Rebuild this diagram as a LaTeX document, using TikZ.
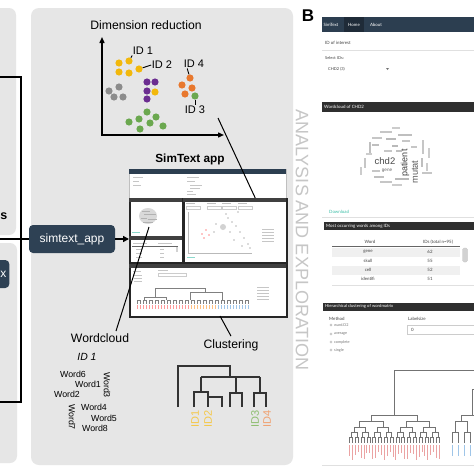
\documentclass[tikz,border=0pt]{standalone}
\usepackage{fontspec}
\setmainfont{Liberation Sans}
\newfontfamily\shinyfont{Lato}
\usetikzlibrary{arrows.meta}
\definecolor{panelgray}{HTML}{E6E6E6}
\definecolor{navybox}{HTML}{2E4154}
\definecolor{dyel}{HTML}{F2B80C}
\definecolor{dpur}{HTML}{6B2D90}
\definecolor{dgry}{HTML}{8C8C8C}
\definecolor{dorg}{HTML}{E8782E}
\definecolor{dgrn}{HTML}{6BA84F}
\definecolor{lyel}{HTML}{F4C84A}
\definecolor{lgrn}{HTML}{8EBE70}
\definecolor{lorg}{HTML}{F0A272}
\definecolor{shinynavy}{HTML}{2C3E50}
\definecolor{shinydark}{HTML}{2F2F2F}
\definecolor{dlteal}{HTML}{3DBFA8}
\definecolor{txtgray}{HTML}{C6C6C6}
\definecolor{lblpink}{HTML}{EBA3A3}
\definecolor{lblblue}{HTML}{9FC5E8}
\newcommand{\myfs}[1]{\fontsize{#1}{#1}\selectfont}
\tikzset{
  dotn/.style={circle, inner sep=0pt, minimum size=7.2pt, draw=none},
  idlbl/.style={font=\myfs{11}, inner sep=0.5pt},
  biglbl/.style={font=\myfs{12.2}, inner sep=0pt},
  leader/.style={line width=0.9pt, black},
  pointer/.style={line width=1pt, black},
  dend/.style={line width=1.3pt, black!80},
  wordn/.style={font=\myfs{8.8}, inner sep=0pt},
  scrbox/.style={draw=black!85, line width=1.5pt, fill=white, inner sep=0pt},
  navybtn/.style={fill=navybox, rounded corners=4pt, text=white, font=\myfs{12}, inner sep=0pt},
  sdend/.style={line width=0.45pt, black!55},
  stxt/.style={font=\shinyfont\myfs{4.4}, inner sep=0pt, text=black!75},
}
\begin{document}
\begin{tikzpicture}[x=1pt,y=-1pt]
\useasboundingbox (0,0) rectangle (474,474);
\fill[white] (0,0) rectangle (474,474);

% ---------- left partial panels ----------
\fill[panelgray, rounded corners=7pt] (-30,8) rectangle (16,235);
\fill[panelgray, rounded corners=7pt] (-30,243) rectangle (17,463);
\node[font=\bfseries\myfs{12.5}, anchor=west, inner sep=0pt] (sfrag) at (0.2,216) {s};
\node[navybtn, minimum width=40, minimum height=28, anchor=east] (xbox) at (9.5,274) {};
\node[text=white, font=\myfs{12}, anchor=west, inner sep=0pt] (xfrag) at (0.2,274) {x};
\coordinate (brA) at (-3,77);
\coordinate (brB) at (-3,402);
\draw[line width=1.8pt] (brA) -- (21,77) -- (21,402) -- (brB);

% ---------- main panel ----------
\fill[panelgray, rounded corners=8pt] (31,8) rectangle (293,465);

% simtext_app
\node[navybtn, minimum width=86, minimum height=28] (app) at (72,239) {simtext\_app};
\coordinate (appin) at (-3,239);
\draw[line width=1.6pt] (appin) -- (app.west);

% Dimension reduction
\node[biglbl] (dimred) at (146,25) {Dimension reduction};
\coordinate (ytip) at (102,37);
\coordinate (orig) at (102,135);
\coordinate (xtip) at (224,135);
\draw[line width=1.4pt, {Triangle[length=6pt,width=5pt]}-{Triangle[length=6pt,width=5pt]}] (ytip) -- (orig) -- (xtip);

\foreach \n/\px/\py/\c in {ya/119/63/dyel, yb/129/61/dyel, yc/119/72/dyel, yd/129/73/dyel, ye/139/69/dyel, yf/155/92/dyel,
  pa/147/82/dpur, pb/155/82/dpur, pc/147/91/dpur, pd/147/99/dpur,
  ga/109/91/dgry, gb/119/87/dgry, gc/114/97/dgry, gd/123/97/dgry,
  oa/190/78/dorg, ob/182/85/dorg, oc/192/88/dorg, od/185/94/dorg,
  na/195/96/dgrn, nb/147/112/dgrn, nc/139/119/dgrn, nd/156/117/dgrn, ne/129/122/dgrn, nf/150/123/dgrn, ng/140/129/dgrn, nh/163/126/dgrn}
  \node[dotn, fill=\c] (\n) at (\px,\py) {};

\node[idlbl] (id1) at (143,51) {ID 1};
\node[idlbl] (id2) at (162,65) {ID 2};
\node[idlbl] (id4) at (194,64) {ID 4};
\node[idlbl] (id3) at (195,110) {ID 3};
\draw[leader] (yb) -- (id1.south west);
\draw[leader] (ye) -- (id2.west);
\draw[leader] (oa) -- ([xshift=4pt]id4.south west);
\draw[leader] (na) -- (id3.north);

% SimText app screenshot
\node[font=\bfseries\myfs{11.8}, inner sep=0pt] (simapp) at (190,159) {SimText app};
\node[anchor=north west, minimum width=157, minimum height=29, inner sep=0pt, fill=white, draw=black!25, line width=0.5pt] (scrtop) at (129,169) {};
\fill[shinynavy] (129,169) rectangle (286,173.5);
\foreach \x/\y/\w in {133/177/10, 133/181/6, 133/184.5/8, 187/177/12, 187/181/8, 190/184.5/12, 190/187.5/10, 187/191/6, 187/194/9}
  \fill[gray!45] (\x,\y) rectangle ++(\w,1.1);
\node[scrbox, anchor=north west, minimum width=53, minimum height=38] (wcbox) at (129,198) {};
\node[scrbox, anchor=north west, minimum width=103, minimum height=64] (bigbox) at (183,198) {};
\node[scrbox, anchor=north west, minimum width=53, minimum height=26] (tabbox) at (129,236) {};
\node[scrbox, anchor=north west, minimum width=157, minimum height=52] (clbox) at (129,264) {};
\fill[black!75] (129,198) rectangle (182,201.5);
\fill[black!75] (183,198) rectangle (286,201.5);
\fill[black!75] (129,236) rectangle (182,239.5);
\fill[black!75] (129,264) rectangle (286,267.5);
% wordcloud thumb
\fill[gray!30] (148,216) ellipse (9 and 8);
\foreach \x/\y/\w in {142/211/8, 144/214/12, 141/218/6, 148/219/9, 143/222/10}
  \fill[gray!60] (\x,\y) rectangle ++(\w,1.2);
\fill[dlteal!60] (132,232) rectangle ++(8,1);
% table thumb
\foreach \x/\y/\w in {133/243/14, 158/243/14, 136/249/6, 160/249/4, 136/253/6, 160/253/4, 136/257/6, 160/257/4}
  \fill[gray!45] (\x,\y) rectangle ++(\w,1.1);
\draw[black!60, line width=0.5pt] (132,246) -- (178,246);
\fill[gray!35] (176,247) rectangle (178,252);
% scatter thumb
\foreach \x in {186,207,222,238} {\fill[gray!50] (\x,203) rectangle ++(9,1.2); \draw[gray!40, line width=0.3pt] (\x,206) rectangle ++(14,3);}
\draw[gray!55, line width=0.4pt] (188,212) -- (188,253) -- (252,253);
\foreach \x/\y in {226/214,232/222,236/226,240/232,244/238,248/244,250/248,230/232,216/224,238/212,214/232,234/240,242/246,228/218}
  \fill[gray!55] (\x,\y) circle (0.8);
\fill[gray!35] (223,227) circle (3);
\foreach \x/\y in {202/234,206/230,209/235,204/238}
  \fill[red!45] (\x,\y) circle (0.8);
\foreach \y in {229,232,235,238,241}
  \fill[gray!45] (262,\y) rectangle ++(12,1);
\fill[dlteal!60] (187,257) rectangle ++(8,1);
% clustering thumb
\foreach \x/\y/\w in {133/271/8, 134/275/8, 134/278/8, 134/281/8, 158/270/10}
  \fill[gray!45] (\x,\y) rectangle ++(\w,1.1);
\draw[gray!40, line width=0.3pt] (158,273) rectangle ++(28,3);
\begin{scope}[line width=0.35pt, black!50]
\draw (155,297) -- (155,288) -- (205,288) -- (205,292);
\draw (144,300) -- (144,297) -- (166,297) -- (166,300);
\draw (190,300) -- (190,292) -- (222,292) -- (222,300);
\foreach \x in {137,143,...,246} \draw (\x,304) -- (\x,300) -- (\x+3,300) -- (\x+3,304);
\end{scope}
\foreach \x in {137,140,...,188} \fill[red!40] (\x,305) rectangle ++(1.2,4);
\foreach \x in {191,194,...,215} \fill[orange!50] (\x,305) rectangle ++(1.2,4);
\foreach \x in {218,221,...,249} \fill[lblblue] (\x,305) rectangle ++(1.2,4);
\foreach \y in {287,290,293,296,299}
  \fill[gray!45] (257,\y) rectangle ++(12,1);

% arrow app -> screenshot
\coordinate (scrin) at (129,239);
\draw[line width=1.6pt, -{Triangle[length=6pt,width=6pt]}] (app.east) -- (scrin);

% pointers
\coordinate (dimptr) at (218,118);
\draw[pointer] (dimptr) -- ([xshift=20pt]bigbox.north);
\coordinate (wcpt) at (149,227);
\coordinate (wctail) at (116,331);
\draw[pointer] (wcpt) -- (wctail);
\coordinate (clpt) at (220,316);

% Wordcloud
\node[biglbl] (wclabel) at (100,338) {Wordcloud};
\node[font=\itshape\myfs{10.4}, inner sep=0pt] (wid) at (87,357) {ID 1};
\node[wordn] (w6) at (73,374) {Word6};
\node[wordn] (w1) at (88,384) {Word1};
\node[wordn] (w2) at (67,394) {Word2};
\node[wordn, rotate=-90] (w3) at (107,385) {Word3};
\node[wordn] (w4) at (94,407) {Word4};
\node[wordn] (w5) at (104,418) {Word5};
\node[wordn] (w8) at (95,428) {Word8};
\node[wordn, rotate=-90] (w7) at (72,417) {Word7};

% Clustering
\node[biglbl] (clabel) at (231,345) {Clustering};
\draw[pointer] (clpt) -- ([yshift=3pt]clabel.north);
\draw[dend] (178,407) -- (178,366) -- (230,366) -- (230,377);
\draw[dend] (201,377) -- (260,377);
\draw[dend] (201,377) -- (201,392);
\draw[dend] (194,407) -- (194,392) -- (208,392) -- (208,407);
\draw[dend] (208,397) -- (222,397) -- (222,407);
\draw[dend] (236,377) -- (236,393);
\draw[dend] (230,407) -- (230,393) -- (242,393) -- (242,407);
\draw[dend] (260,377) -- (260,393);
\draw[dend] (254,407) -- (254,393) -- (266,393) -- (266,407);
\node[idlbl, rotate=90, anchor=east, text=lyel] (cid1) at (195,410) {ID1};
\node[idlbl, rotate=90, anchor=east, text=lyel] (cid2) at (208,410) {ID2};
\node[idlbl, rotate=90, anchor=east, text=lgrn] (cid3) at (255,410) {ID3};
\node[idlbl, rotate=90, anchor=east, text=lorg] (cid4) at (267,410) {ID4};

% ---------- vertical title ----------
\node[rotate=-90, font=\myfs{18}, text=txtgray, inner sep=0pt] (vtitle) at (302,240) {ANALYSIS AND EXPLORATION};

% ---------- panel B ----------
\node[font=\bfseries\myfs{17}, inner sep=0pt] (blabel) at (308,16) {B};
\fill[shinynavy] (322,17) rectangle (480,32);
\fill[black!30!shinynavy] (344,17) rectangle (364,32);
\node[stxt, text=white] (navst) at (331,24.5) {SimText};
\node[stxt, text=white] (navhome) at (354,24.5) {Home};
\node[stxt, text=white] (navabout) at (376,24.5) {About};
\node[stxt, anchor=west] (idint) at (325,43) {ID of interest};
\draw[black!12, line width=0.5pt] (322,50) -- (480,50);
\node[stxt, anchor=west, font=\shinyfont\myfs{4}] (selid) at (325,58) {Select IDs:};
\node[stxt, anchor=west, font=\shinyfont\myfs{4}] (chd) at (328,69) {CHD2 (3)};
\fill[black!55] (386,68) -- (389,68) -- (387.5,70) -- cycle;
\fill[shinydark] (322,102) rectangle (480,112);
\node[stxt, text=white, anchor=west] (wctitle) at (324,107) {Wordcloud of CHD2};
% wordcloud
\foreach \x/\y/\w/\h/\g in {380/131/12/2/45, 392/127/8/2/40, 398/134/14/2/50, 372/137/10/2/45, 386/138/10/2/55, 402/140/8/2/45,
  372/144/7/2/50, 392/145/6/2/55, 411/146/6/2/45, 369/142/2/12/50, 422/140/2/14/45, 428/148/2/10/40,
  372/170/8/2/45, 374/176/10/2/50, 380/181/12/2/45, 395/178/14/2/55, 392/184/10/2/40, 422/172/10/2/45,
  364/158/2/10/45, 360/167/2/8/40, 396/150/6/2/50, 421/158/2/9/50, 426/163/2/8/40, 384/150/8/2/45, 366/153/6/2/40}
  \fill[gray!\g] (\x,\y) rectangle ++(\w,\h);
\node[font=\myfs{9.5}, text=black!70, inner sep=0pt] (wchd) at (385,161) {chd2};
\node[font=\myfs{9}, text=black!75, rotate=90, inner sep=0pt] (wpat) at (405,163) {patient};
\node[font=\myfs{9.2}, text=black!65, rotate=90, inner sep=0pt] (wmut) at (415,172) {mutat};
\node[font=\myfs{4.6}, text=black!60, inner sep=0pt] (wgene) at (387,171) {gene};
\node[stxt, anchor=west, text=dlteal] (dl) at (329,212) {Download};
\draw[black!12, line width=0.5pt] (322,217) -- (480,217);
\fill[shinydark] (324,222) rectangle (480,229.5);
\node[stxt, text=white, anchor=west] (tabtitle) at (326,225.8) {Most occurring words among IDs};
\node[stxt] (thw) at (370,242) {Word};
\node[stxt] (thn) at (438,242) {IDs (total n=95)};
\draw[black!60, line width=0.9pt] (332,246) -- (460,246);
\fill[black!6] (332,248) rectangle (460,256.5);
\fill[black!6] (332,266) rectangle (460,274.5);
\node[stxt] (r1a) at (368,252) {gene};
\node[stxt] (r1b) at (430,252) {62};
\node[stxt] (r2a) at (368,261) {skull};
\node[stxt] (r2b) at (430,261) {55};
\node[stxt] (r3a) at (368,270) {cell};
\node[stxt] (r3b) at (430,270) {52};
\node[stxt] (r4a) at (368,279) {identifi};
\node[stxt] (r4b) at (430,279) {51};
\fill[gray!35, draw=gray!50, line width=0.3pt, rounded corners=1.5pt] (462.5,248) rectangle (467.5,262);
\draw[black!12, line width=0.5pt] (332,285) -- (480,285);
\fill[shinydark] (323,303) rectangle (480,310.5);
\node[stxt, text=white, anchor=west, font=\shinyfont\myfs{4.2}] (cltitle) at (325,306.8) {Hierarchical clustering of wordmatrix};
\node[stxt, anchor=west] (meth) at (329,319) {Method};
\foreach \y/\t in {325/ward.D2, 334/average, 342/complete, 350/single}
  {\draw[gray!60, line width=0.3pt, fill=white] (331,\y) circle (1.1);
   \node[stxt, anchor=west, font=\shinyfont\myfs{3.8}, text=black!55] at (334,\y) {\t};}
\fill[gray!60] (331,325) circle (0.5);
\node[stxt, anchor=west] (lsz) at (408,319) {Labelsize};
\draw[gray!40, line width=0.4pt] (407,325) rectangle (480,334);
\node[stxt, anchor=west] (lszv) at (411,329.5) {0};
% big dendrogram
\begin{scope}[sdend]
\foreach \k in {0,...,15}{
  \pgfmathsetmacro\cc{351+5.8*\k}
  \draw (\cc-1.5,443) -- (\cc-1.5,437) -- (\cc+1.5,437) -- (\cc+1.5,443);
}
\foreach \j in {0,...,7}{
  \pgfmathsetmacro\aa{351+11.6*\j}
  \draw (\aa,437) -- (\aa,432) -- (\aa+5.8,432) -- (\aa+5.8,437);
}
\foreach \m in {0,...,3}{
  \pgfmathsetmacro\qq{353.9+23.2*\m}
  \draw (\qq,432) -- (\qq,427) -- (\qq+11.6,427) -- (\qq+11.6,432);
}
\draw (359.7,427) -- (359.7,421) -- (382.9,421) -- (382.9,427);
\draw (406.1,427) -- (406.1,421) -- (429.3,421) -- (429.3,427);
\draw (371.3,421) -- (371.3,415) -- (417.7,415) -- (417.7,421);
\draw (394.5,415) -- (394.5,370) -- (480,370);
\draw (480,389) -- (472,389) -- (472,415);
\draw (461,421) -- (461,415) -- (480,415);
\draw (455,432) -- (455,421) -- (467,421) -- (467,432);
\draw (452,443) -- (452,432) -- (458,432) -- (458,443);
\draw (464,443) -- (464,432) -- (470,432) -- (470,443);
\end{scope}
\foreach \k in {0,...,31}{
  \pgfmathsetmacro\lx{351-1.5+5.8*floor(\k/2)+3*mod(\k,2)}
  \pgfmathsetmacro\ll{11+4*sin(\k*97)}
  \draw[lblpink, line width=0.9pt] (\lx,445) -- (\lx,445+\ll);
}
\foreach \x in {452,458,464,470}
  \draw[lblblue, line width=0.9pt] (\x,445) -- (\x,456);
\draw[black!12, line width=0.5pt] (322,465) -- (480,465);
\end{tikzpicture}
\end{document}
